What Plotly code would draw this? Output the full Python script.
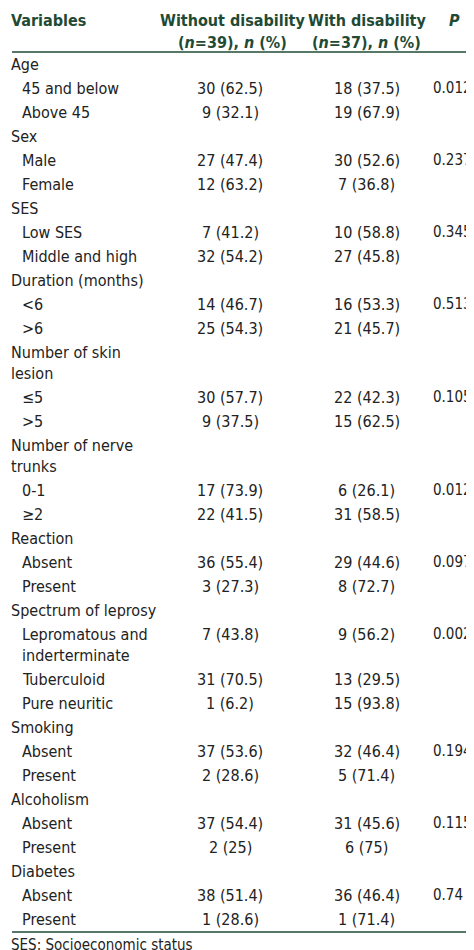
import plotly.graph_objects as go

# table content
labels = ["Age", "45 and below", "Above 45", "Sex", "Male", "Female", "SES", "Low SES", "Middle and high",
          "Duration (months)", "<6", ">6", "Number of skin<br>lesion", "≤5", ">5",
          "Number of nerve<br>trunks", "0-1", "≥2", "Reaction", "Absent", "Present",
          "Spectrum of leprosy", "Lepromatous and<br>inderterminate", "Tuberculoid", "Pure neuritic",
          "Smoking", "Absent", "Present", "Alcoholism", "Absent", "Present",
          "Diabetes", "Absent", "Present"]
is_group = [1, 0, 0, 1, 0, 0, 1, 0, 0, 1, 0, 0, 1, 0, 0, 1, 0, 0, 1, 0, 0, 1, 0, 0, 0, 1, 0, 0, 1, 0, 0, 1, 0, 0]
without_dis = ["", "30 (62.5)", "9 (32.1)", "", "27 (47.4)", "12 (63.2)", "", "7 (41.2)", "32 (54.2)",
               "", "14 (46.7)", "25 (54.3)", "", "30 (57.7)", "9 (37.5)", "", "17 (73.9)", "22 (41.5)",
               "", "36 (55.4)", "3 (27.3)", "", "7 (43.8)", "31 (70.5)", "1 (6.2)",
               "", "37 (53.6)", "2 (28.6)", "", "37 (54.4)", "2 (25)", "", "38 (51.4)", "1 (28.6)"]
with_dis = ["", "18 (37.5)", "19 (67.9)", "", "30 (52.6)", "7 (36.8)", "", "10 (58.8)", "27 (45.8)",
            "", "16 (53.3)", "21 (45.7)", "", "22 (42.3)", "15 (62.5)", "", "6 (26.1)", "31 (58.5)",
            "", "29 (44.6)", "8 (72.7)", "", "9 (56.2)", "13 (29.5)", "15 (93.8)",
            "", "32 (46.4)", "5 (71.4)", "", "31 (45.6)", "6 (75)", "", "36 (46.4)", "1 (71.4)"]
p_vals = ["", "0.0125", "", "", "0.2375", "", "", "0.3456", "", "", "0.5134", "", "", "0.1056", "", "",
          "0.0125", "", "", "0.0975", "", "", "0.0025", "", "", "", "0.1945", "", "", "0.1156", "", "",
          "0.74", ""]

GREEN = "#1f4a35"
FONT = "DejaVu Sans Condensed"
W, H = 466, 945

fig = go.Figure()
ann = []


def add(x, y, text, anchor="left", color="#222", size=16):
    ann.append(dict(x=x, y=y, text=text, xanchor=anchor, yanchor="middle", showarrow=False,
                    font=dict(family=FONT, size=size, color=color), xref="x", yref="y",
                    borderpad=0))


# header
add(-2, 12, "<b>Variables</b>", color=GREEN)
add(222, 12, "<b>Without disability</b>", "center", GREEN)
add(222, 34, "<b>(<i>n</i>=39), <i>n</i> (%)</b>", "center", GREEN)
add(358, 12, "<b>With disability</b>", "center", GREEN)
add(358, 34, "<b>(<i>n</i>=37), <i>n</i> (%)</b>", "center", GREEN)
add(446, 12, "<b><i>P</i></b>", "center", GREEN)

y = 56
for lab, g, a, b, p in zip(labels, is_group, without_dis, with_dis, p_vals):
    x0 = -2 if g else 9
    if "<br>" in lab:
        first, second = lab.split("<br>")
        add(x0, y, first)
        add(x0, y + 21, second)
    else:
        add(x0, y, lab)
    add(220, y, a, "center")
    add(358, y, b, "center")
    add(424, y, p, size=15)
    y += 24 + (21 if "<br>" in lab else 0)

line_bottom = y - 24 + 13
add(-2, line_bottom + 13, "SES: Socioeconomic status", size=15)

fig.add_shape(type="line", x0=0, x1=W, y0=44, y1=44, line=dict(color=GREEN, width=1.5))
fig.add_shape(type="line", x0=0, x1=W, y0=line_bottom, y1=line_bottom, line=dict(color=GREEN, width=1.5))

fig.update_layout(
    width=W, height=H, margin=dict(l=0, r=0, t=0, b=0),
    paper_bgcolor="white", plot_bgcolor="white", annotations=ann,
    xaxis=dict(range=[-4, W], visible=False, fixedrange=True),
    yaxis=dict(range=[H, 0], visible=False, fixedrange=True),
    showlegend=False,
)
fig.write_html("out.html")
